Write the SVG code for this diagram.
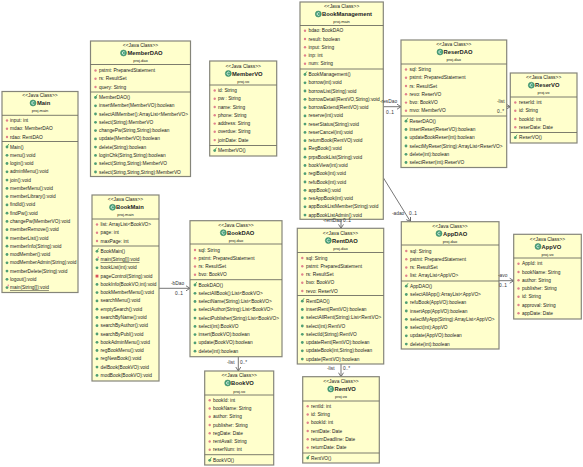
<svg xmlns="http://www.w3.org/2000/svg" xmlns:xlink="http://www.w3.org/1999/xlink" width="583" height="467" viewBox="0 0 583 467">
<style>
text{font-family:"Liberation Sans",Arial,sans-serif;font-size:4.8px;fill:#222;dominant-baseline:central}
.b{fill:#ffffcc;stroke:#85857a;stroke-width:1.2}
.d{stroke:#6e6e62;stroke-width:.9;fill:none}
.st{font-size:4.9px;text-anchor:middle}
.n{font-size:5.8px;font-weight:bold}
.p{font-size:4px;text-anchor:middle}
.u{text-decoration:underline}
.c{stroke:#666;stroke-width:.9;fill:none}
.l{font-size:4.8px;fill:#333}
</style>
<defs>
<g id="k"><circle r="3" fill="#4aa37c" stroke="#2e7d5e" stroke-width=".5"/><path d="M1.2-1A1.4 1.4 0 1 0 1.2 1" fill="none" stroke="#fff" stroke-width=".7"/></g>
<circle id="f" r="1.2" fill="#e0808c"/>
<circle id="m" r="1.4" fill="#4f9e74"/>
<g id="t"><circle r="1.4" fill="#4f9e74"/><path d="M.2-.6L1.8-3" stroke="#3c9a55" stroke-width=".8"/></g>
<g id="s"><circle r="1.4" fill="#4f9e74"/><path d="M1.2-1.2V-3" stroke="#e0508c" stroke-width=".9"/></g>
<rect id="q" x="-1.4" y="-1.4" width="2.8" height="2.8" fill="#d8505c"/>
<marker id="a" markerUnits="userSpaceOnUse" markerWidth="7" markerHeight="7" refX="5" refY="3.5" orient="auto"><path d="M1 1L5 3.5L1 6" fill="none" stroke="#555" stroke-width=".8"/></marker>
</defs>

<g id="connectors">
<path class="c" marker-end="url(#a)" d="M159 288.3H190"/>
<path class="c" marker-end="url(#a)" d="M238.3 357V371"/>
<path class="c" marker-end="url(#a)" d="M341 364V376.7"/>
<path class="c" marker-end="url(#a)" d="M341 219.5V228.3"/>
<path class="c" marker-end="url(#a)" d="M383.5 106.7H401"/>
<path class="c" marker-end="url(#a)" d="M383.5 178L410.5 221.7"/>
<path class="c" marker-end="url(#a)" d="M506.7 106.7H510.3"/>
<path class="c" marker-end="url(#a)" d="M499 280.7H513.7"/>
</g>

<g id="Main">
<rect class="b" x="2" y="91.5" width="76" height="201"/><path class="d" d="M2 115.3H78M2 141.5H78"/>
<text class="st" x="40" y="95.7">&lt;&lt;Java Class&gt;&gt;</text><use href="#k" x="33" y="103"/><text class="n" x="37" y="103">Main</text><text class="p" x="40" y="110.5">proj.main</text>
<use href="#f" x="7" y="120.5"/><text x="10" y="120.5">input: int</text>
<use href="#f" x="7" y="128.7"/><text x="10" y="128.7">mdao: MemberDAO</text>
<use href="#f" x="7" y="137"/><text x="10" y="137">rdao: RentDAO</text>
<use href="#t" x="7" y="147"/><text x="10" y="147">Main()</text>
<use href="#m" x="7" y="155.3"/><text x="10" y="155.3">menu():void</text>
<use href="#m" x="7" y="163.5"/><text x="10" y="163.5">login():void</text>
<use href="#m" x="7" y="171.8"/><text x="10" y="171.8">adminMenu():void</text>
<use href="#m" x="7" y="180.1"/><text x="10" y="180.1">join():void</text>
<use href="#m" x="7" y="188.4"/><text x="10" y="188.4">memberMenu():void</text>
<use href="#m" x="7" y="196.6"/><text x="10" y="196.6">memberLibrary():void</text>
<use href="#m" x="7" y="204.9"/><text x="10" y="204.9">findId():void</text>
<use href="#m" x="7" y="213.2"/><text x="10" y="213.2">findPw():void</text>
<use href="#m" x="7" y="221.4"/><text x="10" y="221.4">changePw(MemberVO):void</text>
<use href="#m" x="7" y="229.7"/><text x="10" y="229.7">memberRemove():void</text>
<use href="#m" x="7" y="238"/><text x="10" y="238">memberList():void</text>
<use href="#m" x="7" y="246.2"/><text x="10" y="246.2">memberInfo(String):void</text>
<use href="#m" x="7" y="254.5"/><text x="10" y="254.5">modMember():void</text>
<use href="#m" x="7" y="262.8"/><text x="10" y="262.8">modMemberAdmin(String):void</text>
<use href="#m" x="7" y="271.1"/><text x="10" y="271.1">memberDelete(String):void</text>
<use href="#m" x="7" y="279.3"/><text x="10" y="279.3">logout():void</text>
<use href="#s" x="7" y="287.6"/><text class="u" x="10" y="287.6">main(String[]):void</text>
</g>

<g id="MemberDAO">
<rect class="b" x="90.5" y="41" width="100" height="135.5"/><path class="d" d="M90.5 64.5H190.5M90.5 92H190.5"/>
<text class="st" x="140.5" y="45.7">&lt;&lt;Java Class&gt;&gt;</text><use href="#k" x="123.5" y="53"/><text class="n" x="127.5" y="53">MemberDAO</text><text class="p" x="140.5" y="60.5">proj.dao</text>
<use href="#f" x="95.5" y="70.5"/><text x="99" y="70.5">pstmt: PreparedStatement</text>
<use href="#f" x="95.5" y="78.7"/><text x="99" y="78.7">rs: ResultSet</text>
<use href="#f" x="95.5" y="87"/><text x="99" y="87">query: String</text>
<use href="#t" x="95.5" y="97.5"/><text x="99" y="97.5">MemberDAO()</text>
<use href="#m" x="95.5" y="105.8"/><text x="99" y="105.8">insertMember(MemberVO):boolean</text>
<use href="#m" x="95.5" y="114"/><text x="99" y="114">selectAllMember():ArrayList&lt;MemberVO&gt;</text>
<use href="#m" x="95.5" y="122.3"/><text x="99" y="122.3">select(String):MemberVO</text>
<use href="#m" x="95.5" y="130.6"/><text x="99" y="130.6">changePw(String,String):boolean</text>
<use href="#m" x="95.5" y="138.9"/><text x="99" y="138.9">update(MemberVO):boolean</text>
<use href="#m" x="95.5" y="147.1"/><text x="99" y="147.1">delete(String):boolean</text>
<use href="#m" x="95.5" y="155.4"/><text x="99" y="155.4">loginChk(String,String):boolean</text>
<use href="#m" x="95.5" y="163.7"/><text x="99" y="163.7">select(String,String):MemberVO</text>
<use href="#m" x="95.5" y="172"/><text x="99" y="172">select(String,String,String):MemberVO</text>
</g>

<g id="BookMain">
<rect class="b" x="92" y="195" width="67" height="186"/><path class="d" d="M92 219H159M92 246H159"/>
<text class="st" x="125.5" y="199.5">&lt;&lt;Java Class&gt;&gt;</text><use href="#k" x="112.5" y="207.3"/><text class="n" x="116" y="207.3">BookMain</text><text class="p" x="125.5" y="214.7">proj.main</text>
<use href="#f" x="97" y="224.5"/><text x="100.5" y="224.5">list: ArrayList&lt;BookVO&gt;</text>
<use href="#f" x="97" y="232.8"/><text x="100.5" y="232.8">page: int</text>
<use href="#f" x="97" y="241"/><text x="100.5" y="241">maxPage: int</text>
<use href="#t" x="97" y="251.3"/><text x="100.5" y="251.3">BookMain()</text>
<use href="#s" x="97" y="259.6"/><text class="u" x="100.5" y="259.6">main(String[]):void</text>
<use href="#m" x="97" y="267.8"/><text x="100.5" y="267.8">bookList(int):void</text>
<use href="#q" x="97" y="276.1"/><text x="100.5" y="276.1">pageControl(String):void</text>
<use href="#m" x="97" y="284.4"/><text x="100.5" y="284.4">bookInfo(BookVO,int):void</text>
<use href="#m" x="97" y="292.6"/><text x="100.5" y="292.6">bookMemberMenu():void</text>
<use href="#m" x="97" y="300.9"/><text x="100.5" y="300.9">searchMenu():void</text>
<use href="#m" x="97" y="309.2"/><text x="100.5" y="309.2">emptySearch():void</text>
<use href="#m" x="97" y="317.5"/><text x="100.5" y="317.5">searchByName():void</text>
<use href="#m" x="97" y="325.7"/><text x="100.5" y="325.7">searchByAuthor():void</text>
<use href="#m" x="97" y="334"/><text x="100.5" y="334">searchByPubl():void</text>
<use href="#m" x="97" y="342.3"/><text x="100.5" y="342.3">bookAdminMenu():void</text>
<use href="#m" x="97" y="350.5"/><text x="100.5" y="350.5">regBookMenu():void</text>
<use href="#m" x="97" y="358.8"/><text x="100.5" y="358.8">regNewBook():void</text>
<use href="#m" x="97" y="367.1"/><text x="100.5" y="367.1">delBook(BookVO):void</text>
<use href="#m" x="97" y="375.4"/><text x="100.5" y="375.4">modBook(BookVO):void</text>
</g>

<g id="BookDAO">
<rect class="b" x="190" y="220.7" width="92" height="136"/><path class="d" d="M190 244H282M190 279.7H282"/>
<text class="st" x="236" y="225.2">&lt;&lt;Java Class&gt;&gt;</text><use href="#k" x="223.3" y="232.7"/><text class="n" x="227" y="232.7">BookDAO</text><text class="p" x="236" y="240">proj.dao</text>
<use href="#f" x="195" y="250"/><text x="198.5" y="250">sql: String</text>
<use href="#f" x="195" y="258.2"/><text x="198.5" y="258.2">pstmt: PreparedStatement</text>
<use href="#f" x="195" y="266.5"/><text x="198.5" y="266.5">rs: ResultSet</text>
<use href="#f" x="195" y="274.7"/><text x="198.5" y="274.7">bvo: BookVO</text>
<use href="#t" x="195" y="285"/><text x="198.5" y="285">BookDAO()</text>
<use href="#m" x="195" y="293.3"/><text x="198.5" y="293.3">selectAllBook():List&lt;BookVO&gt;</text>
<use href="#m" x="195" y="301.5"/><text x="198.5" y="301.5">selectName(String):List&lt;BookVO&gt;</text>
<use href="#m" x="195" y="309.8"/><text x="198.5" y="309.8">selectAuthor(String):List&lt;BookVO&gt;</text>
<use href="#m" x="195" y="318.1"/><text x="198.5" y="318.1">selectPublisher(String):List&lt;BookVO&gt;</text>
<use href="#m" x="195" y="326.4"/><text x="198.5" y="326.4">select(int):BookVO</text>
<use href="#m" x="195" y="334.6"/><text x="198.5" y="334.6">insert(BookVO):boolean</text>
<use href="#m" x="195" y="342.9"/><text x="198.5" y="342.9">update(BookVO):boolean</text>
<use href="#m" x="195" y="351.2"/><text x="198.5" y="351.2">delete(int):boolean</text>
</g>

<g id="BookVO">
<rect class="b" x="204.7" y="371" width="69" height="94"/><path class="d" d="M204.7 395H273.7M204.7 454.7H273.7"/>
<text class="st" x="239.2" y="375.7">&lt;&lt;Java Class&gt;&gt;</text><use href="#k" x="227.7" y="383"/><text class="n" x="231" y="383">BookVO</text><text class="p" x="239.2" y="391">proj.vo</text>
<use href="#f" x="209.7" y="400.2"/><text x="213" y="400.2">bookId: int</text>
<use href="#f" x="209.7" y="408.5"/><text x="213" y="408.5">bookName: String</text>
<use href="#f" x="209.7" y="416.7"/><text x="213" y="416.7">author: String</text>
<use href="#f" x="209.7" y="425"/><text x="213" y="425">publisher: String</text>
<use href="#f" x="209.7" y="433.3"/><text x="213" y="433.3">regDate: Date</text>
<use href="#f" x="209.7" y="441.5"/><text x="213" y="441.5">rentAvail: String</text>
<use href="#f" x="209.7" y="449.8"/><text x="213" y="449.8">reserNum: int</text>
<use href="#t" x="209.7" y="460.3"/><text x="213" y="460.3">BookVO()</text>
</g>

<g id="MemberVO">
<rect class="b" x="209.7" y="61" width="67" height="95"/><path class="d" d="M209.7 85H276.7M209.7 145.5H276.7"/>
<text class="st" x="243.2" y="66">&lt;&lt;Java Class&gt;&gt;</text><use href="#k" x="228.3" y="73.5"/><text class="n" x="232" y="73.5">MemberVO</text><text class="p" x="243.2" y="81">proj.vo</text>
<use href="#f" x="214.7" y="90.5"/><text x="218" y="90.5">id: String</text>
<use href="#f" x="214.7" y="98.8"/><text x="218" y="98.8">pw : String</text>
<use href="#f" x="214.7" y="107"/><text x="218" y="107">name: String</text>
<use href="#f" x="214.7" y="115.3"/><text x="218" y="115.3">phone: String</text>
<use href="#f" x="214.7" y="123.6"/><text x="218" y="123.6">address: String</text>
<use href="#f" x="214.7" y="131.8"/><text x="218" y="131.8">overdue: String</text>
<use href="#f" x="214.7" y="140.1"/><text x="218" y="140.1">joinDate: Date</text>
<use href="#t" x="214.7" y="150.6"/><text x="218" y="150.6">MemberVO()</text>
</g>

<g id="BookManagement">
<rect class="b" x="300" y="2" width="83.3" height="217.3"/><path class="d" d="M300 25.5H383.3M300 69H383.3"/>
<text class="st" x="341.6" y="6.2">&lt;&lt;Java Class&gt;&gt;</text><use href="#k" x="318.3" y="14"/><text class="n" x="322" y="14">BookManagement</text><text class="p" x="341.6" y="21">proj.main</text>
<use href="#f" x="305" y="30.7"/><text x="308.5" y="30.7">bdao: BookDAO</text>
<use href="#f" x="305" y="39"/><text x="308.5" y="39">result: boolean</text>
<use href="#f" x="305" y="47.2"/><text x="308.5" y="47.2">input: String</text>
<use href="#f" x="305" y="55.5"/><text x="308.5" y="55.5">inp: int</text>
<use href="#f" x="305" y="63.8"/><text x="308.5" y="63.8">num: String</text>
<use href="#t" x="305" y="74.5"/><text x="308.5" y="74.5">BookManagement()</text>
<use href="#m" x="305" y="82.8"/><text x="308.5" y="82.8">borrow(int):void</text>
<use href="#m" x="305" y="91"/><text x="308.5" y="91">borrowList(String):void</text>
<use href="#m" x="305" y="99.3"/><text x="308.5" y="99.3">borrowDetail(RentVO,String):void</text>
<use href="#m" x="305" y="107.6"/><text x="308.5" y="107.6">borrowExtend(RentVO):void</text>
<use href="#m" x="305" y="115.9"/><text x="308.5" y="115.9">reserve(int):void</text>
<use href="#m" x="305" y="124.1"/><text x="308.5" y="124.1">reserStatus(String):void</text>
<use href="#m" x="305" y="132.4"/><text x="308.5" y="132.4">reserCancel(int):void</text>
<use href="#m" x="305" y="140.7"/><text x="308.5" y="140.7">returnBook(RentVO):void</text>
<use href="#m" x="305" y="148.9"/><text x="308.5" y="148.9">RegBook():void</text>
<use href="#m" x="305" y="157.2"/><text x="308.5" y="157.2">prpsBookList(String):void</text>
<use href="#m" x="305" y="165.5"/><text x="308.5" y="165.5">bookView(int):void</text>
<use href="#m" x="305" y="173.7"/><text x="308.5" y="173.7">regiBook(int):void</text>
<use href="#m" x="305" y="182"/><text x="308.5" y="182">refuBook(int):void</text>
<use href="#m" x="305" y="190.3"/><text x="308.5" y="190.3">appBook():void</text>
<use href="#m" x="305" y="198.6"/><text x="308.5" y="198.6">resAppBook(int):void</text>
<use href="#m" x="305" y="206.8"/><text x="308.5" y="206.8">appBookListMember(String):void</text>
<use href="#m" x="305" y="215.1"/><text x="308.5" y="215.1">appBookListAdmin():void</text>
</g>

<g id="ReserDAO">
<rect class="b" x="401" y="40" width="105.7" height="127.5"/><path class="d" d="M401 64H506.7M401 116H506.7"/>
<text class="st" x="453.8" y="44.7">&lt;&lt;Java Class&gt;&gt;</text><use href="#k" x="440" y="52"/><text class="n" x="443.5" y="52">ReserDAO</text><text class="p" x="453.8" y="59.7">proj.dao</text>
<use href="#f" x="406" y="69.5"/><text x="409.5" y="69.5">sql: String</text>
<use href="#f" x="406" y="77.8"/><text x="409.5" y="77.8">pstmt: PreparedStatement</text>
<use href="#f" x="406" y="86"/><text x="409.5" y="86">rs: ResultSet</text>
<use href="#f" x="406" y="94.3"/><text x="409.5" y="94.3">revo: ReserVO</text>
<use href="#f" x="406" y="102.6"/><text x="409.5" y="102.6">bvo: BookVO</text>
<use href="#f" x="406" y="110.8"/><text x="409.5" y="110.8">mvo: MemberVO</text>
<use href="#t" x="406" y="121.2"/><text x="409.5" y="121.2">ReserDAO()</text>
<use href="#m" x="406" y="129.5"/><text x="409.5" y="129.5">insertReser(ReserVO):boolean</text>
<use href="#m" x="406" y="137.7"/><text x="409.5" y="137.7">updateBookReser(int):boolean</text>
<use href="#m" x="406" y="146"/><text x="409.5" y="146">selectMyReser(String):ArrayList&lt;ReserVO&gt;</text>
<use href="#m" x="406" y="154.3"/><text x="409.5" y="154.3">delete(int):boolean</text>
<use href="#m" x="406" y="162.5"/><text x="409.5" y="162.5">selectReser(int):ReserVO</text>
</g>

<g id="ReserVO">
<rect class="b" x="510.3" y="73" width="66.7" height="70"/><path class="d" d="M510.3 97H577M510.3 132.5H577"/>
<text class="st" x="543.6" y="77.7">&lt;&lt;Java Class&gt;&gt;</text><use href="#k" x="531.3" y="85.2"/><text class="n" x="535" y="85.2">ReserVO</text><text class="p" x="543.6" y="92.8">proj.vo</text>
<use href="#f" x="515.3" y="102.5"/><text x="519" y="102.5">reserId: int</text>
<use href="#f" x="515.3" y="110.8"/><text x="519" y="110.8">id: String</text>
<use href="#f" x="515.3" y="119"/><text x="519" y="119">bookId: int</text>
<use href="#f" x="515.3" y="127.3"/><text x="519" y="127.3">reserDate: Date</text>
<use href="#t" x="515.3" y="137.7"/><text x="519" y="137.7">ReserVO()</text>
</g>

<g id="RentDAO">
<rect class="b" x="297.3" y="228.3" width="86.4" height="135.7"/><path class="d" d="M297.3 252.5H383.7M297.3 295.5H383.7"/>
<text class="st" x="340.5" y="233">&lt;&lt;Java Class&gt;&gt;</text><use href="#k" x="328.3" y="240.5"/><text class="n" x="332" y="240.5">RentDAO</text><text class="p" x="340.5" y="248">proj.dao</text>
<use href="#f" x="302.3" y="258"/><text x="306" y="258">sql: String</text>
<use href="#f" x="302.3" y="266.2"/><text x="306" y="266.2">pstmt: PreparedStatement</text>
<use href="#f" x="302.3" y="274.5"/><text x="306" y="274.5">rs: ResultSet</text>
<use href="#f" x="302.3" y="282.7"/><text x="306" y="282.7">bvo: BookVO</text>
<use href="#f" x="302.3" y="291"/><text x="306" y="291">revo: ReserVO</text>
<use href="#t" x="302.3" y="301.2"/><text x="306" y="301.2">RentDAO()</text>
<use href="#m" x="302.3" y="309.5"/><text x="306" y="309.5">insertRent(RentVO):boolean</text>
<use href="#m" x="302.3" y="317.7"/><text x="306" y="317.7">selectAllRent(String):List&lt;RentVO&gt;</text>
<use href="#m" x="302.3" y="326"/><text x="306" y="326">select(int):RentVO</text>
<use href="#m" x="302.3" y="334.3"/><text x="306" y="334.3">selectId(String):RentVO</text>
<use href="#m" x="302.3" y="342.5"/><text x="306" y="342.5">updateRent(RentVO):boolean</text>
<use href="#m" x="302.3" y="350.8"/><text x="306" y="350.8">updateBook(int,String):boolean</text>
<use href="#m" x="302.3" y="359.1"/><text x="306" y="359.1">update(RentVO):boolean</text>
</g>

<g id="RentVO">
<rect class="b" x="302.7" y="376.7" width="76.6" height="86.3"/><path class="d" d="M302.7 401H379.3M302.7 453H379.3"/>
<text class="st" x="341" y="381.5">&lt;&lt;Java Class&gt;&gt;</text><use href="#k" x="330.7" y="389"/><text class="n" x="334.5" y="389">RentVO</text><text class="p" x="341" y="396.7">proj.vo</text>
<use href="#f" x="307.7" y="406.2"/><text x="311" y="406.2">rentId: int</text>
<use href="#f" x="307.7" y="414.5"/><text x="311" y="414.5">id: String</text>
<use href="#f" x="307.7" y="422.7"/><text x="311" y="422.7">bookId: int</text>
<use href="#f" x="307.7" y="431"/><text x="311" y="431">rentDate: Date</text>
<use href="#f" x="307.7" y="439.3"/><text x="311" y="439.3">returnDeadline: Date</text>
<use href="#f" x="307.7" y="447.6"/><text x="311" y="447.6">returnDate: Date</text>
<use href="#t" x="307.7" y="458"/><text x="311" y="458">RentVO()</text>
</g>

<g id="AppDAO">
<rect class="b" x="401.3" y="221.7" width="97.7" height="127.3"/><path class="d" d="M401.3 245H499M401.3 281H499"/>
<text class="st" x="450" y="226">&lt;&lt;Java Class&gt;&gt;</text><use href="#k" x="439" y="233.5"/><text class="n" x="443" y="233.5">AppDAO</text><text class="p" x="450" y="241">proj.dao</text>
<use href="#f" x="406.3" y="251"/><text x="410" y="251">sql: String</text>
<use href="#f" x="406.3" y="259.3"/><text x="410" y="259.3">pstmt: PreparedStatement</text>
<use href="#f" x="406.3" y="267.5"/><text x="410" y="267.5">rs: ResultSet</text>
<use href="#f" x="406.3" y="275.8"/><text x="410" y="275.8">list: ArrayList&lt;AppVO&gt;</text>
<use href="#t" x="406.3" y="286.2"/><text x="410" y="286.2">AppDAO()</text>
<use href="#m" x="406.3" y="294.5"/><text x="410" y="294.5">selectAllApp():ArrayList&lt;AppVO&gt;</text>
<use href="#m" x="406.3" y="302.7"/><text x="410" y="302.7">refuBook(AppVO):boolean</text>
<use href="#m" x="406.3" y="311"/><text x="410" y="311">insertApp(AppVO):boolean</text>
<use href="#m" x="406.3" y="319.3"/><text x="410" y="319.3">selectMyApp(String):ArrayList&lt;AppVO&gt;</text>
<use href="#m" x="406.3" y="327.5"/><text x="410" y="327.5">select(int):AppVO</text>
<use href="#m" x="406.3" y="335.8"/><text x="410" y="335.8">update(AppVO):boolean</text>
<use href="#m" x="406.3" y="344.1"/><text x="410" y="344.1">delete(int):boolean</text>
</g>

<g id="AppVO">
<rect class="b" x="513.7" y="234.3" width="67.6" height="84.7"/><path class="d" d="M513.7 258H581.3"/>
<text class="st" x="547.5" y="239">&lt;&lt;Java Class&gt;&gt;</text><use href="#k" x="538" y="246.5"/><text class="n" x="541.5" y="246.5">AppVO</text><text class="p" x="547.5" y="254">proj.vo</text>
<use href="#f" x="518.5" y="263.7"/><text x="522" y="263.7">AppId: int</text>
<use href="#f" x="518.5" y="272"/><text x="522" y="272">bookName: String</text>
<use href="#f" x="518.5" y="280.2"/><text x="522" y="280.2">author: String</text>
<use href="#f" x="518.5" y="288.5"/><text x="522" y="288.5">publisher: String</text>
<use href="#f" x="518.5" y="296.8"/><text x="522" y="296.8">id: String</text>
<use href="#f" x="518.5" y="305"/><text x="522" y="305">approval: String</text>
<use href="#f" x="518.5" y="313.3"/><text x="522" y="313.3">appDate: Date</text>
</g>

<g id="labels">
<text class="l" x="171" y="283">-bDao</text><text class="l" x="175" y="293.5">0..1</text>
<text class="l" x="227" y="362">-list</text><text class="l" x="240" y="362">0..*</text>
<text class="l" x="327" y="368">-list</text><text class="l" x="343" y="368">0..*</text>
<text class="l" x="323" y="220">-rentDao</text><text class="l" x="343" y="220">0..1</text>
<text class="l" x="380" y="101">-resDao</text><text class="l" x="386" y="112">0..1</text>
<text class="l" x="392" y="213">-adao</text><text class="l" x="409" y="213">0..1</text>
<text class="l" x="497" y="101">-list</text><text class="l" x="497" y="111">0..*</text>
<text class="l" x="498" y="275">-avo</text><text class="l" x="499" y="285">0..1</text>
</g>
</svg>
